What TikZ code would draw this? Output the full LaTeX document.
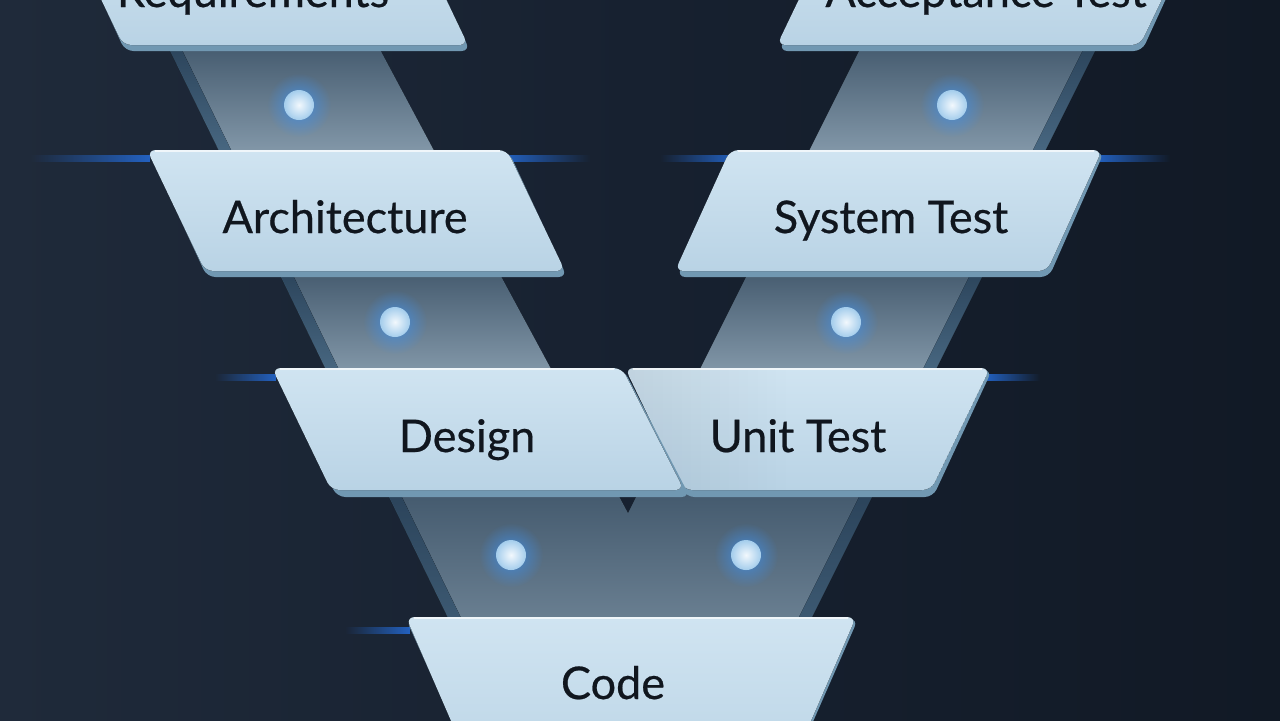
\documentclass[tikz,border=0pt]{standalone}
\usepackage{fontspec}
\setmainfont{Lato}[FakeBold=0.5]
\usetikzlibrary{fadings}
\definecolor{bgL}{HTML}{1F2A3A}
\definecolor{bgM}{HTML}{172130}
\definecolor{bgR}{HTML}{111925}
\definecolor{bandT}{HTML}{42586C}
\definecolor{bandB}{HTML}{879CAD}
\definecolor{sideT}{HTML}{2A4259}
\definecolor{sideB}{HTML}{4A6A84}
\definecolor{faceT}{HTML}{D0E4F1}
\definecolor{faceB}{HTML}{B9D3E5}
\definecolor{edgeC}{HTML}{7198B2}
\definecolor{glowC}{HTML}{2468D0}
\definecolor{dotGlow}{HTML}{3F8FE8}
\definecolor{dotIn}{HTML}{F2F8FD}
\definecolor{dotOut}{HTML}{A4CDEC}
\definecolor{txt}{HTML}{10161E}
\tikzfading[name=fadeleft, left color=transparent!100, right color=transparent!0]
\tikzfading[name=faderight, left color=transparent!0, right color=transparent!100]
\tikzfading[name=softglow, inner color=transparent!15, outer color=transparent!100]
\begin{document}
\begin{tikzpicture}[x=0.01cm,y=-0.01cm,
  band/.style={top color=bandT, bottom color=bandB},
  side/.style={top color=sideT, bottom color=sideB},
  face/.style={top color=faceT, bottom color=faceB, rounded corners=2.4pt},
  edge/.style={fill=edgeC, rounded corners=2.4pt},
  hilite/.style={draw=white, opacity=0.7, line width=0.5pt},
  glowL/.style={fill=glowC, path fading=fadeleft},
  glowR/.style={fill=glowC, path fading=faderight},
  vtext/.style={font=\fontsize{12.8}{15}\selectfont, text=txt, anchor=base, inner sep=0pt}]
\useasboundingbox (0,0) rectangle (1280,720);
% background
\shade[left color=bgL, right color=bgR, middle color=bgM] (0,0) rectangle (1280,720);

% glow lines
\fill[glowL, opacity=0.9] (30,155) rectangle (150,162);
\fill[glowR, opacity=0.9] (505,155) rectangle (590,162);
\fill[glowL, opacity=0.9] (660,155) rectangle (735,162);
\fill[glowR, opacity=0.9] (1098,155) rectangle (1170,162);
\fill[glowL, opacity=0.9] (215,374) rectangle (276,381);
\fill[glowR, opacity=0.9] (986,374) rectangle (1040,381);
\fill[glowL, opacity=0.9] (345,627) rectangle (410,634);

% V bands, segment 1
\fill[band] (164.6,40) -- (375,40) -- (439,160) -- (223.5,160) -- cycle;
\fill[side] (164.6,40) -- (177,40) -- (236,160) -- (223.5,160) -- cycle;
\fill[band] (864.5,40) -- (1100.5,40) -- (1040.5,160) -- (804.5,160) -- cycle;
\fill[side] (1088,40) -- (1100.5,40) -- (1040.5,160) -- (1028,160) -- cycle;
% segment 2
\fill[band] (275,265) -- (495,265) -- (557,380) -- (331,380) -- cycle;
\fill[side] (275,265) -- (288,265) -- (344,380) -- (331,380) -- cycle;
\fill[band] (752,265) -- (988,265) -- (930.5,380) -- (694.5,380) -- cycle;
\fill[side] (975,265) -- (988,265) -- (930.5,380) -- (917.5,380) -- cycle;
% segment 3
\fill[band] (383,485) -- (613,485) -- (628,513) -- (642,485) -- (878,485) -- (760.5,720) -- (498,720) -- cycle;
\fill[side] (383,485) -- (396,485) -- (511,720) -- (498,720) -- cycle;
\fill[side] (865,485) -- (878,485) -- (760.5,720) -- (747.5,720) -- cycle;

% dots
\foreach \p in {(299,105), (395,322), (511,555), (952,105), (846,322), (746,555)}{
  \fill[dotGlow, path fading=softglow] \p circle (32);
  \shade[inner color=dotIn, outer color=dotOut] \p circle (15);
}

% boxes
% Requirements
\fill[edge] (65,-80) -- (410,-80) -- (470,51) -- (125,51) -- cycle;
\fill[face] (63,-80) -- (408,-80) -- (468,45) -- (123,45) -- cycle;
\node[vtext] (req) at (253,7) {Requirements};
% Acceptance Test
\fill[edge] (839,-80) -- (1202,-80) -- (1142,51) -- (779,51) -- cycle;
\fill[face] (837,-80) -- (1200,-80) -- (1140,45) -- (777,45) -- cycle;
\node[vtext] (acc) at (986,7) {Acceptance Test};
% Architecture
\fill[edge] (149,152) -- (509,152) -- (567,277) -- (207,277) -- cycle;
\fill[face] (147,150) -- (507,150) -- (565,271) -- (205,271) -- cycle;
\draw[hilite] (155,151) -- (500,151);
\node[vtext] (arch) at (345,233) {Architecture};
% System Test
\fill[edge] (732,152) -- (1104,152) -- (1049,277) -- (677,277) -- cycle;
\fill[face] (730,150) -- (1102,150) -- (1047,271) -- (675,271) -- cycle;
\draw[hilite] (738,151) -- (1094,151);
\node[vtext] (sys) at (891,233) {System Test};
% Unit Test
\fill[edge] (627,370) -- (992,370) -- (933,497) -- (686,497) -- cycle;
\begin{scope}
  \clip[rounded corners=2.4pt] (625,368) -- (990,368) -- (931,490) -- (684,490) -- cycle;
  \fill[face] (625,368) -- (990,368) -- (931,490) -- (684,490) -- cycle;
  \fill[black, opacity=0.07, path fading=faderight] (620,360) rectangle (790,500);
\end{scope}
\draw[hilite] (633,369) -- (982,369);
\node[vtext] (unit) at (798,452) {Unit Test};
% Design
\fill[edge] (274,370) -- (624,370) -- (690,497) -- (337,497) -- cycle;
\fill[face] (272,368) -- (622,368) -- (684,490) -- (331,490) -- cycle;
\draw[hilite] (280,369) -- (614,369);
\node[vtext] (des) at (467,452) {Design};
% Code
\fill[edge] (406,619) -- (858,619) -- (783,790) -- (483,790) -- cycle;
\fill[face] (406,617) -- (856,617) -- (781,790) -- (481,790) -- cycle;
\draw[hilite] (414,618) -- (848,618);
\node[vtext] (code) at (613,699) {Code};
\end{tikzpicture}
\end{document}
